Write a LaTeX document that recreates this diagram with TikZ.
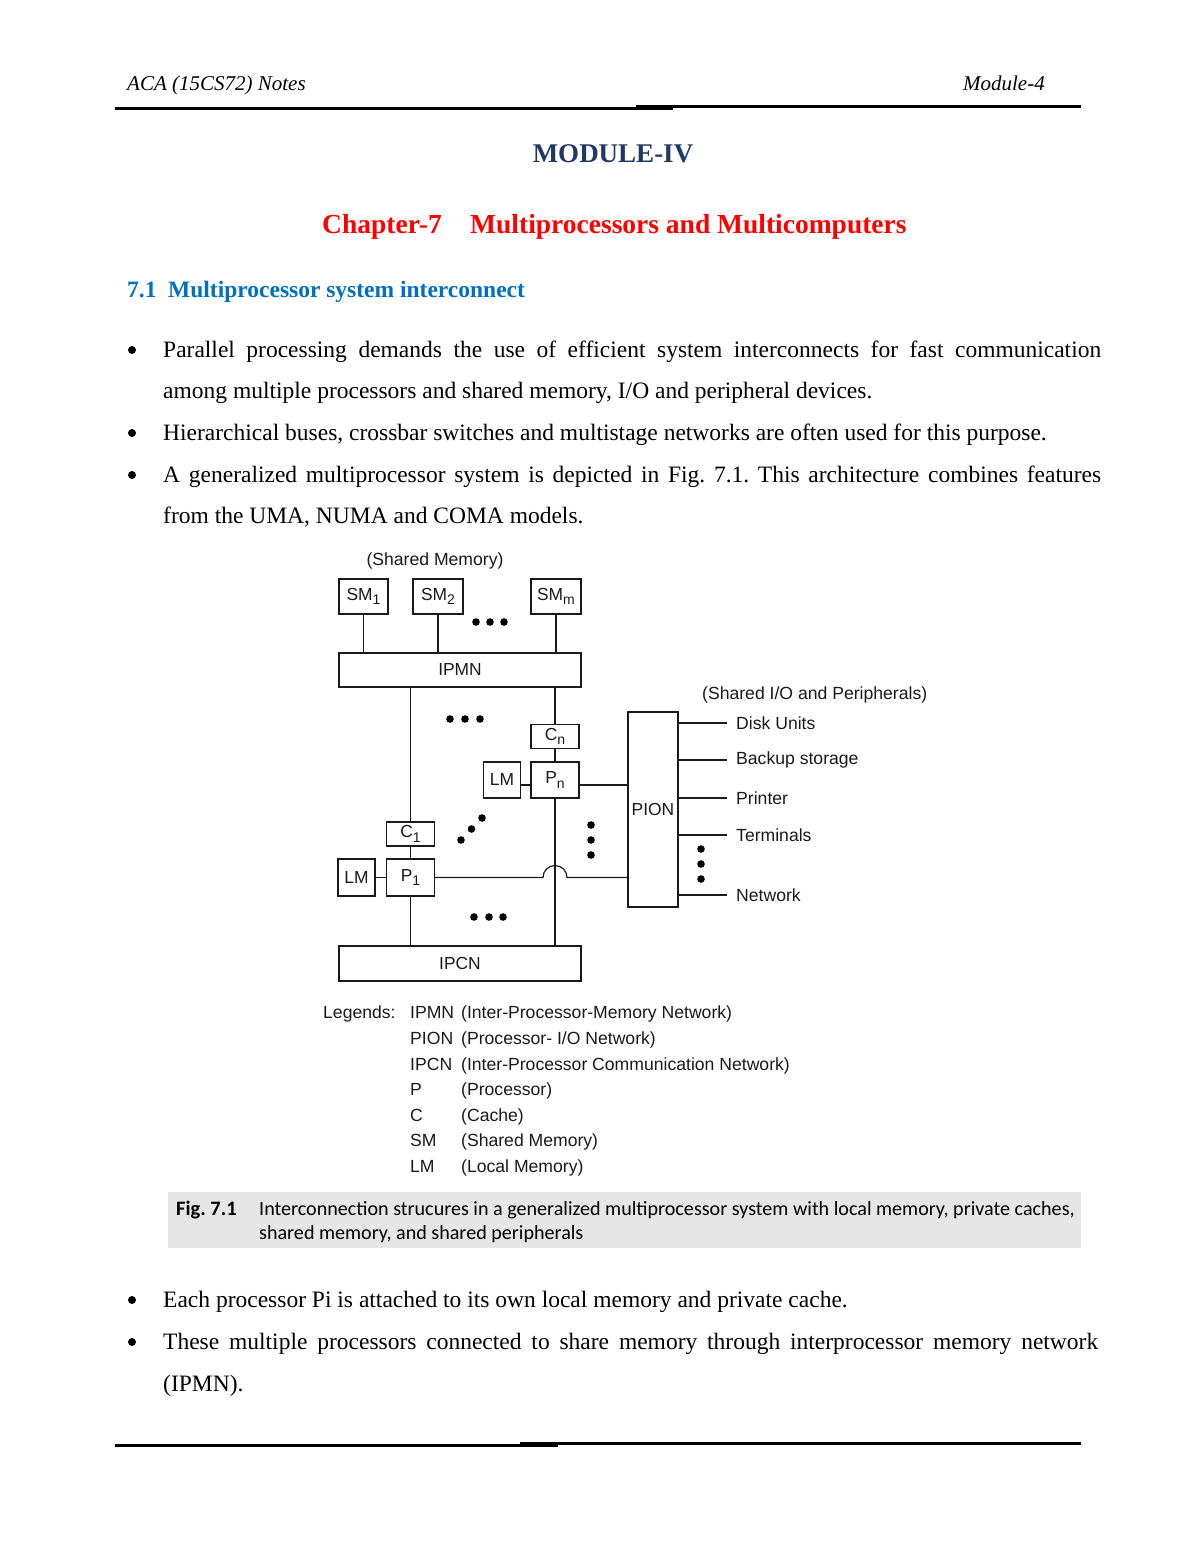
\documentclass[tikz,border=0pt]{standalone}
\usepackage{fontspec}
\setmainfont{Liberation Serif}
\newfontfamily\dsans{Liberation Sans}
\newfontfamily\capfont{Carlito}
\definecolor{navy}{HTML}{1F3864}
\definecolor{chred}{HTML}{FF0000}
\definecolor{secblue}{HTML}{0070C0}
\definecolor{capgray}{HTML}{E6E6E6}
\definecolor{ink}{HTML}{1A1A1A}
\newcommand\sbs[1]{\raisebox{-0.5ex}{\fontsize{14}{14}\selectfont #1}}
\newcommand\jline[2]{\makebox[#1pt][s]{#2}}
\frenchspacing
\begin{document}
\begin{tikzpicture}[x=1pt,y=-1pt,
  bodytext/.style={anchor=base west,inner sep=0pt,font=\fontsize{23.5}{28}\selectfont},
  hdr/.style={inner sep=0pt,font=\itshape\fontsize{21}{24}\selectfont},
  box/.style={draw=ink,line width=1.2pt,inner sep=0pt,font=\dsans\fontsize{17.4}{17}\selectfont,text=ink},
  lbl/.style={inner sep=0pt,font=\dsans\fontsize{17.6}{20}\selectfont,text=ink},
  leglbl/.style={lbl,anchor=base west},
  wire/.style={draw=ink,line width=1.2pt},
  capt/.style={anchor=base west,inner sep=0pt,font=\capfont\fontsize{20.1}{22}\selectfont}]
\path[use as bounding box,fill=white] (0,0) rectangle (1200,1553);

% header
\node[hdr,anchor=base west] (hl) at (127,90) {ACA (15CS72) Notes};
\node[hdr,anchor=base east] (hr) at (1045,90) {Module-4};
\draw[line width=3pt] (115,108) -- (673,108);
\draw[line width=2.5pt] (636,106.5) -- (1081,106.5);

% titles
\node[anchor=base,inner sep=0pt,font=\bfseries\fontsize{27}{30}\selectfont,text=navy] (mod) at (613,162) {MODULE-IV};
\node[anchor=base west,inner sep=0pt,font=\bfseries\fontsize{27.5}{30}\selectfont,text=chred] (chap) at (322,233) {Chapter-7};
\node[anchor=base west,inner sep=0pt,font=\bfseries\fontsize{27.5}{30}\selectfont,text=chred] (chapt) at (470,233) {Multiprocessors and Multicomputers};
\node[anchor=base west,inner sep=0pt,font=\bfseries\fontsize{23.5}{26}\selectfont,text=secblue] (secn) at (127,297) {7.1};
\node[anchor=base west,inner sep=0pt,font=\bfseries\fontsize{23.5}{26}\selectfont,text=secblue] (sect) at (168,297) {Multiprocessor system interconnect};

% bullets
\foreach \yy in {350,433,475,1300,1342} \fill (132,\yy) circle (4);
\node[bodytext] (b1a) at (163,357) {\jline{938}{Parallel processing demands the use of efficient system interconnects for fast communication}};
\node[bodytext] (b1b) at (163,398) {among multiple processors and shared memory, I/O and peripheral devices.};
\node[bodytext] (b2) at (163,440) {Hierarchical buses, crossbar switches and multistage networks are often used for this purpose.};
\node[bodytext] (b3a) at (163,482) {\jline{938}{A generalized multiprocessor system is depicted in Fig. 7.1. This architecture combines features}};
\node[bodytext] (b3b) at (163,523) {from the UMA, NUMA and COMA models.};

% diagram
\node[lbl] (shm) at (435,561) {(Shared Memory)};
\node[box,minimum width=49pt,minimum height=35pt] (sm1) at (363.5,596.5) {SM\sbs{1}};
\node[box,minimum width=50pt,minimum height=35pt,line width=1.6pt] (sm2) at (438,596.5) {SM\sbs{2}};
\node[box,minimum width=50pt,minimum height=35pt] (smm) at (556,596.5) {SM\sbs{m}};
\node[box,minimum width=242pt,minimum height=34pt] (ipmn) at (460,670) {IPMN};
\node[box,minimum width=48pt,minimum height=24pt] (cn) at (555,736.5) {C\sbs{n}};
\node[box,minimum width=48pt,minimum height=36pt] (pn) at (555,780) {P\sbs{n}};
\node[box,minimum width=37pt,minimum height=36pt] (lmn) at (502,780) {LM};
\node[box,minimum width=48pt,minimum height=24pt] (c1) at (410.5,834) {C\sbs{1}};
\node[box,minimum width=48pt,minimum height=37pt] (p1) at (410.5,877.5) {P\sbs{1}};
\node[box,minimum width=37pt,minimum height=37pt] (lm1) at (356.5,877.5) {LM};
\node[box,minimum width=242pt,minimum height=35pt] (ipcn) at (460,963.5) {IPCN};
\node[box,minimum width=50pt,minimum height=195pt,line width=2pt] (pion) at (653,809.5) {PION};

\draw[wire] (sm1.south) -- (sm1.south |- ipmn.north);
\draw[wire,line width=1.7pt] (sm2.south) -- (sm2.south |- ipmn.north);
\draw[wire] (smm.south) -- (smm.south |- ipmn.north);
\draw[wire] (c1.north) -- (c1.north |- ipmn.south);
\draw[wire] (cn.north) -- (cn.north |- ipmn.south);
\draw[wire] (c1.south) -- (p1.north);
\draw[wire] (cn.south) -- (pn.north);
\draw[wire] (p1.south) -- (p1.south |- ipcn.north);
\draw[wire] (pn.south) -- (pn.south |- ipcn.north);
\draw[wire] (lm1.east) -- (p1.west);
\draw[wire] (lmn.east |- 0,785) -- (pn.west |- 0,785);
\draw[wire] (pn.east |- 0,785) -- (pion.west |- 0,785);
\draw[wire] (p1.east) -- (p1.east -| 543,0) arc[start angle=180,end angle=360,radius=12] -- (pion.west |- p1.east);

% dots
\foreach \xx in {450,465,480} \fill (\xx,719) circle (3.8);
\foreach \xx in {476,490,504} \fill (\xx,622) circle (3.8);
\foreach \xx in {474,489,503} \fill (\xx,917) circle (3.8);
\fill (461,840) circle (3.8); \fill (471.5,829) circle (3.8); \fill (482,818) circle (3.8);
\foreach \yy in {825,840,855} \fill (591,\yy) circle (3.8);
\foreach \yy in {849,864,879} \fill (701,\yy) circle (3.8);

% peripherals
\node[lbl,anchor=west] (shio) at (702,695) {(Shared I/O and Peripherals)};
\node[lbl,anchor=west] (disk) at (736,723) {Disk Units};
\node[lbl,anchor=west] (backup) at (736,760) {Backup storage};
\node[lbl,anchor=west] (printer) at (736,798) {Printer};
\node[lbl,anchor=west] (term) at (736,835) {Terminals};
\node[lbl,anchor=west] (net) at (736,895) {Network};
\draw[wire] (pion.east |- disk) -- (727,723);
\draw[wire,line width=2.2pt] (pion.east |- backup) -- (727,760);
\draw[wire] (pion.east |- printer) -- (727,798);
\draw[wire] (pion.east |- term) -- (727,835);
\draw[wire] (pion.east |- net) -- (727,895);

% legends
\node[leglbl] (leg) at (323,1018) {Legends:};
\node[leglbl] (l1a) at (410,1018) {IPMN};
\node[leglbl] (l1b) at (461,1018) {(Inter-Processor-Memory Network)};
\node[leglbl] (l2a) at (410,1044) {PION};
\node[leglbl] (l2b) at (461,1044) {(Processor- I/O Network)};
\node[leglbl] (l3a) at (410,1070) {IPCN};
\node[leglbl] (l3b) at (461,1070) {(Inter-Processor Communication Network)};
\node[leglbl] (l4a) at (410,1095) {P};
\node[leglbl] (l4b) at (461,1095) {(Processor)};
\node[leglbl] (l5a) at (410,1121) {C};
\node[leglbl] (l5b) at (461,1121) {(Cache)};
\node[leglbl] (l6a) at (410,1146) {SM};
\node[leglbl] (l6b) at (461,1146) {(Shared Memory)};
\node[leglbl] (l7a) at (410,1172) {LM};
\node[leglbl] (l7b) at (461,1172) {(Local Memory)};

% caption
\fill[capgray] (168,1192) rectangle (1081,1248);
\node[capt,font=\capfont\bfseries\fontsize{20.5}{22}\selectfont] (figl) at (176,1215) {Fig. 7.1};
\node[capt] (cap1) at (259,1215) {Interconnection strucures in a generalized multiprocessor system with local memory, private caches,};
\node[capt] (cap2) at (259,1239) {shared memory, and shared peripherals};

% bottom bullets
\node[bodytext] (b4) at (163,1307) {Each processor Pi is attached to its own local memory and private cache.};
\node[bodytext] (b5a) at (163,1349) {\jline{935}{These multiple processors connected to share memory through interprocessor memory network}};
\node[bodytext] (b5b) at (163,1391) {(IPMN).};

% footer
\draw[line width=3pt] (115,1445) -- (558,1445);
\draw[line width=2.5pt] (520,1443.5) -- (1081,1443.5);
\end{tikzpicture}
\end{document}
